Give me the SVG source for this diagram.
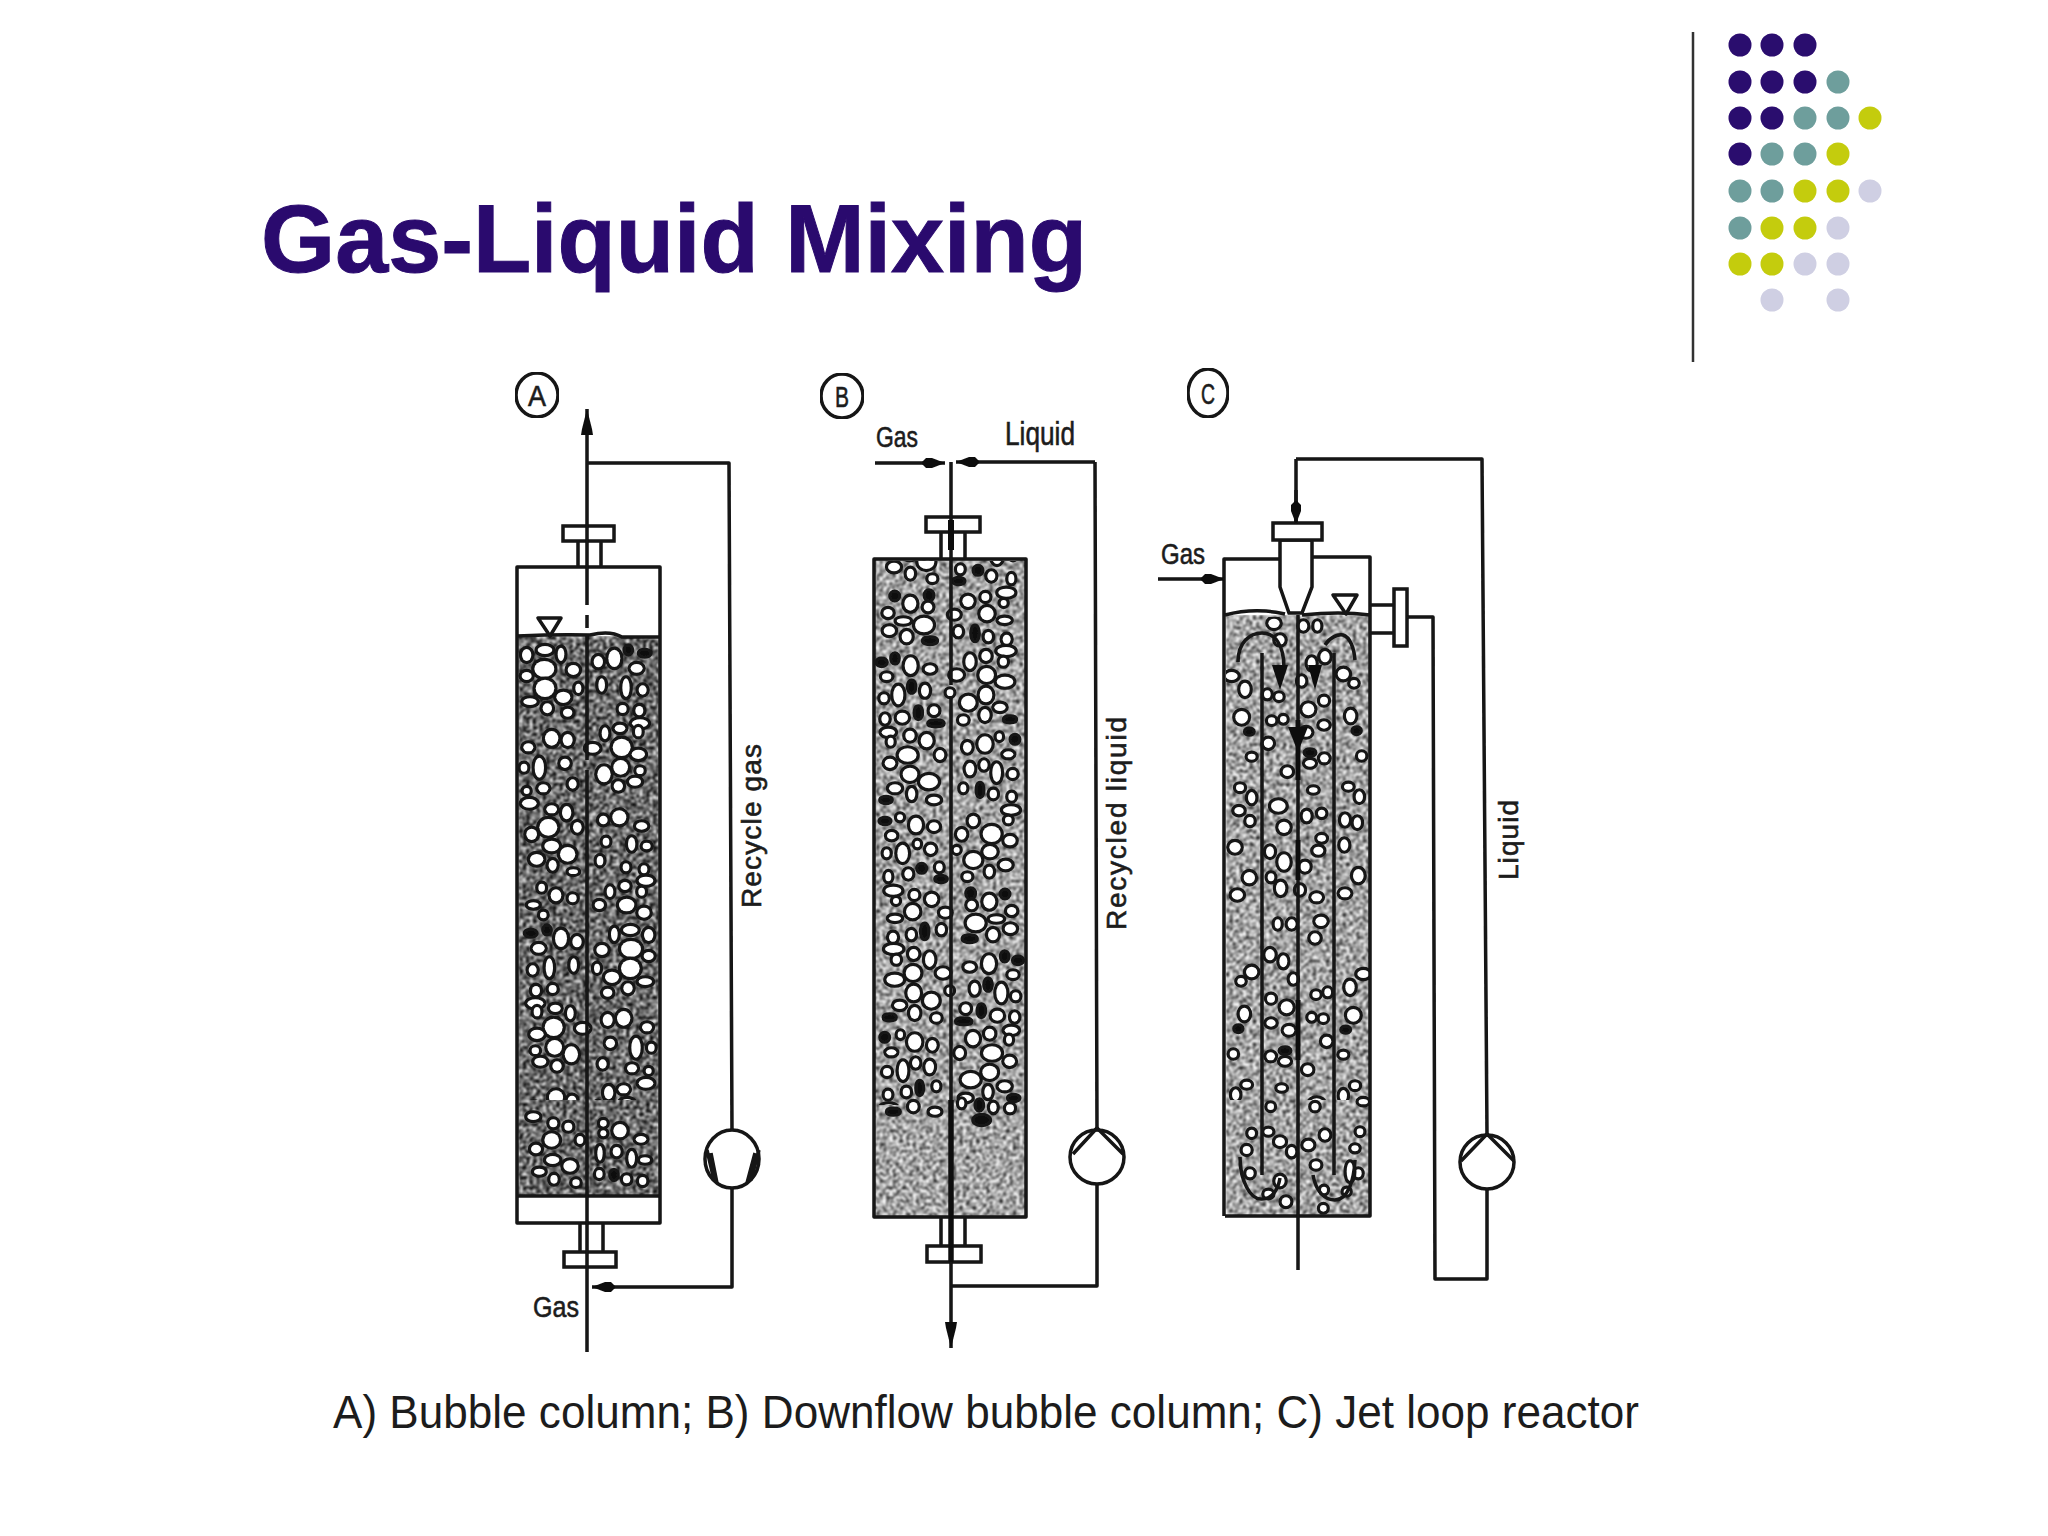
<svg xmlns="http://www.w3.org/2000/svg" xmlns:xlink="http://www.w3.org/1999/xlink" width="2048" height="1536" viewBox="0 0 2048 1536">
<style>
.l{fill:none;stroke:#141414;stroke-width:3.5;stroke-linejoin:round}
.w{fill:#fff;stroke:#141414;stroke-width:3.5}
.b ellipse{fill:#fff;stroke:#141414;stroke-width:19;paint-order:stroke}
.b .d{fill:#111}
.t{font-family:"Liberation Sans",Arial,sans-serif;fill:#1c1c1c}
.n{stroke:#1c1c1c;stroke-width:.6}
.p{fill:#2A0A6E}.g{fill:#6E9E9C}.y{fill:#C4CC10}.v{fill:#CFCFE3}
</style>
<defs>
<filter id="soft" x="-2%" y="-2%" width="104%" height="104%"><feGaussianBlur stdDeviation="0.7"/></filter>
<filter id="grainD" x="0" y="0" width="100%" height="100%" color-interpolation-filters="sRGB"><feTurbulence type="fractalNoise" baseFrequency="0.3" numOctaves="2" seed="4"/><feColorMatrix values="2.6 0 0 0 -0.88 2.6 0 0 0 -0.88 2.6 0 0 0 -0.88 0 0 0 0 1"/><feGaussianBlur stdDeviation="0.9"/></filter>
<filter id="grainL" x="0" y="0" width="100%" height="100%" color-interpolation-filters="sRGB"><feTurbulence type="fractalNoise" baseFrequency="0.3" numOctaves="2" seed="9"/><feColorMatrix values="2.2 0 0 0 -0.45 2.2 0 0 0 -0.45 2.2 0 0 0 -0.45 0 0 0 0 1"/><feGaussianBlur stdDeviation="1"/></filter>
<marker id="head" markerUnits="userSpaceOnUse" markerWidth="28" markerHeight="14" refX="26" refY="7" orient="auto"><path d="M0 1L6 2L26 7L6 12L0 13Z" fill="#111"/></marker>
<marker id="small" markerUnits="userSpaceOnUse" markerWidth="26" markerHeight="14" refX="24" refY="7" orient="auto"><path d="M0 7L5 2L11 2L24 7L11 12L5 12Z" fill="#111"/></marker>
<clipPath id="cA"><rect x="518" y="638" width="140" height="557"/></clipPath>
<clipPath id="cA2"><rect x="518" y="900" width="140" height="200"/></clipPath>
<clipPath id="cB"><rect x="875" y="561" width="150" height="544"/></clipPath>
<clipPath id="cC"><rect x="1226" y="617" width="143" height="483"/></clipPath>
<g id="tileA" class="b">
<ellipse cx="135" cy="90" rx="22" ry="12"/><ellipse cx="80" cy="105" rx="14" ry="18"/><ellipse cx="183" cy="103" rx="10" ry="20"/><ellipse cx="133" cy="147" rx="30" ry="24"/><ellipse cx="220" cy="150" rx="17" ry="15"/><ellipse cx="80" cy="168" rx="15" ry="12"/><ellipse cx="135" cy="205" rx="28" ry="26"/><ellipse cx="190" cy="232" rx="21" ry="17"/><ellipse cx="235" cy="205" rx="9" ry="14"/><ellipse cx="90" cy="245" rx="20" ry="10"/><ellipse cx="142" cy="265" rx="14" ry="15"/><ellipse cx="203" cy="278" rx="14" ry="12"/><ellipse cx="295" cy="125" rx="14" ry="17"/><ellipse cx="343" cy="115" rx="18" ry="26"/><ellipse cx="410" cy="145" rx="18" ry="13"/><ellipse cx="305" cy="195" rx="10" ry="20"/><ellipse cx="378" cy="203" rx="11" ry="28"/><ellipse cx="428" cy="210" rx="12" ry="14"/><ellipse cx="368" cy="267" rx="12" ry="12"/><ellipse cx="418" cy="272" rx="12" ry="14"/><ellipse class="d" cx="434" cy="100" rx="14" ry="7"/><ellipse class="d" cx="385" cy="90" rx="8" ry="10"/><ellipse cx="420" cy="310" rx="24" ry="12"/><ellipse cx="360" cy="325" rx="16" ry="11"/><ellipse cx="315" cy="340" rx="10" ry="18"/><ellipse cx="415" cy="335" rx="10" ry="14"/><ellipse cx="155" cy="355" rx="20" ry="22"/><ellipse cx="203" cy="360" rx="15" ry="18"/><ellipse cx="85" cy="382" rx="15" ry="12"/><ellipse cx="278" cy="385" rx="20" ry="13"/><ellipse cx="365" cy="382" rx="27" ry="26"/><ellipse cx="415" cy="403" rx="20" ry="14"/><ellipse cx="118" cy="443" rx="14" ry="30"/><ellipse cx="72" cy="443" rx="10" ry="12"/><ellipse cx="195" cy="430" rx="14" ry="14"/><ellipse cx="362" cy="442" rx="22" ry="22"/><ellipse cx="312" cy="463" rx="20" ry="24"/><ellipse cx="420" cy="452" rx="11" ry="10"/><ellipse cx="405" cy="485" rx="18" ry="12"/><ellipse cx="355" cy="498" rx="14" ry="14"/><ellipse cx="130" cy="505" rx="15" ry="12"/><ellipse cx="218" cy="492" rx="12" ry="14"/><ellipse cx="80" cy="513" rx="9" ry="9"/><ellipse cx="88" cy="550" rx="22" ry="13"/><ellipse cx="155" cy="568" rx="16" ry="12"/><ellipse cx="200" cy="578" rx="14" ry="20"/><ellipse cx="310" cy="600" rx="13" ry="13"/><ellipse cx="358" cy="592" rx="21" ry="21"/><ellipse cx="425" cy="618" rx="17" ry="11"/><ellipse cx="145" cy="622" rx="27" ry="25"/><ellipse cx="232" cy="622" rx="13" ry="16"/><ellipse cx="95" cy="643" rx="16" ry="17"/><ellipse cx="155" cy="678" rx="22" ry="16"/><ellipse cx="395" cy="672" rx="11" ry="20"/><ellipse cx="440" cy="678" rx="12" ry="10"/><ellipse cx="318" cy="665" rx="10" ry="12"/><ellipse cx="203" cy="703" rx="23" ry="22"/><ellipse cx="110" cy="718" rx="20" ry="16"/><ellipse cx="158" cy="736" rx="12" ry="16"/><ellipse cx="300" cy="722" rx="10" ry="14"/><ellipse cx="378" cy="742" rx="10" ry="12"/><ellipse cx="432" cy="748" rx="10" ry="12"/><ellipse cx="220" cy="755" rx="14" ry="7"/><ellipse cx="125" cy="803" rx="10" ry="12"/><ellipse cx="168" cy="826" rx="16" ry="18"/><ellipse cx="218" cy="835" rx="12" ry="12"/><ellipse cx="330" cy="815" rx="10" ry="16"/><ellipse cx="375" cy="798" rx="14" ry="12"/><ellipse cx="438" cy="782" rx="22" ry="12"/><ellipse cx="425" cy="815" rx="10" ry="12"/><ellipse cx="298" cy="855" rx="14" ry="12"/><ellipse cx="100" cy="855" rx="16" ry="8"/><ellipse cx="380" cy="855" rx="23" ry="19"/><ellipse cx="432" cy="878" rx="17" ry="15"/><ellipse cx="130" cy="885" rx="10" ry="10"/>
</g>
<g id="tileB" class="b">
<ellipse cx="88" cy="32" rx="17" ry="13"/><ellipse cx="130" cy="3" rx="20" ry="8"/><ellipse cx="192" cy="15" rx="27" ry="22"/><ellipse cx="140" cy="50" rx="15" ry="17"/><ellipse class="d" cx="210" cy="62" rx="18" ry="7"/><ellipse cx="295" cy="35" rx="11" ry="14"/><ellipse class="d" cx="345" cy="40" rx="8" ry="20"/><ellipse cx="385" cy="50" rx="11" ry="14"/><ellipse cx="440" cy="58" rx="12" ry="14"/><ellipse cx="438" cy="93" rx="26" ry="12"/><ellipse cx="378" cy="108" rx="14" ry="15"/><ellipse cx="330" cy="125" rx="14" ry="22"/><ellipse cx="430" cy="125" rx="11" ry="12"/><ellipse cx="152" cy="137" rx="18" ry="25"/><ellipse cx="210" cy="147" rx="16" ry="11"/><ellipse class="d" cx="105" cy="115" rx="8" ry="12"/><ellipse class="d" cx="65" cy="127" rx="12" ry="8"/><ellipse cx="290" cy="165" rx="19" ry="14"/><ellipse cx="380" cy="165" rx="22" ry="21"/><ellipse cx="435" cy="185" rx="25" ry="15"/><ellipse cx="80" cy="170" rx="14" ry="10"/><ellipse cx="115" cy="225" rx="15" ry="28"/><ellipse cx="195" cy="212" rx="12" ry="18"/><ellipse class="d" cx="155" cy="200" rx="8" ry="15"/><ellipse cx="72" cy="235" rx="11" ry="12"/><ellipse cx="270" cy="218" rx="10" ry="10"/><ellipse cx="325" cy="248" rx="22" ry="21"/><ellipse cx="378" cy="225" rx="19" ry="22"/><ellipse cx="420" cy="262" rx="17" ry="11"/><ellipse cx="375" cy="285" rx="14" ry="18"/><ellipse cx="222" cy="272" rx="13" ry="13"/><ellipse class="d" cx="175" cy="278" rx="8" ry="16"/><ellipse cx="75" cy="297" rx="11" ry="14"/><ellipse cx="127" cy="293" rx="17" ry="15"/><ellipse cx="310" cy="300" rx="13" ry="11"/><ellipse class="d" cx="450" cy="298" rx="15" ry="6"/><ellipse class="d" cx="228" cy="310" rx="20" ry="6"/><ellipse cx="85" cy="337" rx="20" ry="11"/><ellipse cx="150" cy="347" rx="14" ry="15"/><ellipse cx="200" cy="362" rx="18" ry="20"/><ellipse cx="92" cy="365" rx="9" ry="12"/><ellipse cx="375" cy="372" rx="20" ry="23"/><ellipse cx="322" cy="382" rx="13" ry="16"/><ellipse cx="418" cy="350" rx="8" ry="10"/><ellipse class="d" cx="465" cy="358" rx="10" ry="10"/><ellipse cx="143" cy="405" rx="27" ry="20"/><ellipse cx="240" cy="405" rx="13" ry="15"/><ellipse cx="90" cy="430" rx="16" ry="14"/><ellipse cx="445" cy="403" rx="15" ry="9"/><ellipse cx="330" cy="447" rx="13" ry="19"/><ellipse cx="372" cy="435" rx="11" ry="14"/><ellipse cx="410" cy="458" rx="13" ry="28"/><ellipse cx="458" cy="462" rx="12" ry="12"/><ellipse cx="150" cy="463" rx="22" ry="20"/><ellipse cx="207" cy="485" rx="27" ry="20"/><ellipse cx="105" cy="505" rx="18" ry="12"/><ellipse cx="155" cy="522" rx="11" ry="18"/><ellipse cx="310" cy="505" rx="9" ry="12"/><ellipse class="d" cx="360" cy="510" rx="7" ry="18"/><ellipse cx="400" cy="522" rx="11" ry="13"/><ellipse cx="455" cy="530" rx="10" ry="12"/><ellipse cx="222" cy="540" rx="18" ry="10"/><ellipse class="d" cx="78" cy="540" rx="14" ry="6"/><ellipse cx="453" cy="570" rx="24" ry="11"/><ellipse cx="340" cy="603" rx="14" ry="16"/><ellipse cx="168" cy="615" rx="18" ry="22"/><ellipse cx="222" cy="620" rx="15" ry="13"/><ellipse cx="120" cy="592" rx="9" ry="9"/><ellipse class="d" cx="75" cy="603" rx="13" ry="6"/><ellipse cx="445" cy="600" rx="10" ry="10"/><ellipse cx="305" cy="643" rx="14" ry="16"/><ellipse cx="395" cy="642" rx="27" ry="24"/><ellipse cx="450" cy="662" rx="17" ry="14"/><ellipse cx="95" cy="647" rx="14" ry="11"/><ellipse cx="128" cy="700" rx="16" ry="26"/><ellipse cx="212" cy="688" rx="14" ry="14"/><ellipse cx="172" cy="672" rx="8" ry="10"/><ellipse cx="390" cy="695" rx="20" ry="17"/><ellipse cx="340" cy="720" rx="24" ry="21"/><ellipse cx="80" cy="700" rx="9" ry="12"/><ellipse cx="290" cy="690" rx="9" ry="9"/><ellipse cx="437" cy="735" rx="18" ry="13"/><ellipse cx="388" cy="755" rx="11" ry="15"/><ellipse cx="145" cy="762" rx="12" ry="14"/><ellipse class="d" cx="185" cy="745" rx="10" ry="10"/><ellipse cx="238" cy="742" rx="10" ry="12"/><ellipse cx="85" cy="770" rx="9" ry="14"/><ellipse cx="322" cy="770" rx="12" ry="10"/><ellipse cx="100" cy="812" rx="24" ry="12"/><ellipse class="d" cx="243" cy="777" rx="14" ry="6"/><ellipse cx="163" cy="825" rx="12" ry="12"/><ellipse cx="215" cy="838" rx="17" ry="17"/><ellipse cx="108" cy="843" rx="9" ry="9"/><ellipse class="d" cx="332" cy="820" rx="10" ry="12"/><ellipse cx="388" cy="845" rx="18" ry="21"/><ellipse class="d" cx="435" cy="822" rx="10" ry="10"/><ellipse cx="335" cy="855" rx="13" ry="13"/><ellipse cx="158" cy="875" rx="20" ry="20"/><ellipse cx="256" cy="878" rx="16" ry="12"/><ellipse cx="455" cy="873" rx="14" ry="12"/><ellipse cx="105" cy="895" rx="18" ry="8"/>
</g>
<g id="tileC" class="b">
<ellipse cx="192" cy="70" rx="17" ry="14"/><ellipse cx="280" cy="78" rx="12" ry="14"/><ellipse cx="322" cy="78" rx="9" ry="14"/><ellipse cx="210" cy="120" rx="14" ry="14"/><ellipse cx="345" cy="170" rx="14" ry="17"/><ellipse cx="305" cy="190" rx="12" ry="18"/><ellipse cx="400" cy="222" rx="17" ry="16"/><ellipse cx="65" cy="228" rx="18" ry="12"/><ellipse cx="432" cy="250" rx="11" ry="10"/><ellipse cx="105" cy="268" rx="14" ry="20"/><ellipse cx="275" cy="243" rx="11" ry="14"/><ellipse cx="172" cy="283" rx="10" ry="12"/><ellipse cx="207" cy="290" rx="11" ry="10"/><ellipse cx="342" cy="302" rx="12" ry="12"/><ellipse cx="295" cy="328" rx="18" ry="18"/><ellipse cx="95" cy="352" rx="19" ry="19"/><ellipse cx="422" cy="348" rx="14" ry="19"/><ellipse cx="185" cy="362" rx="11" ry="10"/><ellipse cx="220" cy="358" rx="10" ry="10"/><ellipse cx="342" cy="375" rx="14" ry="11"/><ellipse cx="288" cy="397" rx="16" ry="13"/><ellipse cx="175" cy="430" rx="14" ry="14"/><ellipse class="d" cx="440" cy="392" rx="9" ry="7"/><ellipse class="d" cx="118" cy="395" rx="10" ry="6"/><ellipse cx="125" cy="470" rx="12" ry="9"/><ellipse cx="455" cy="468" rx="11" ry="11"/><ellipse class="d" cx="300" cy="458" rx="13" ry="7"/><ellipse cx="300" cy="490" rx="15" ry="10"/><ellipse cx="343" cy="475" rx="13" ry="12"/><ellipse cx="232" cy="515" rx="14" ry="13"/><ellipse cx="90" cy="563" rx="12" ry="10"/><ellipse cx="125" cy="593" rx="11" ry="17"/><ellipse cx="415" cy="560" rx="13" ry="9"/><ellipse cx="448" cy="590" rx="11" ry="16"/><ellipse cx="310" cy="570" rx="13" ry="8"/><ellipse cx="87" cy="632" rx="14" ry="11"/><ellipse cx="205" cy="618" rx="22" ry="17"/><ellipse cx="290" cy="648" rx="12" ry="16"/><ellipse cx="335" cy="640" rx="11" ry="11"/><ellipse cx="120" cy="663" rx="11" ry="12"/><ellipse cx="405" cy="660" rx="12" ry="17"/><ellipse cx="442" cy="668" rx="11" ry="16"/><ellipse cx="222" cy="682" rx="17" ry="17"/><ellipse cx="335" cy="715" rx="13" ry="10"/><ellipse cx="75" cy="742" rx="17" ry="16"/><ellipse cx="403" cy="735" rx="12" ry="17"/><ellipse cx="180" cy="755" rx="12" ry="16"/><ellipse cx="325" cy="752" rx="15" ry="12"/><ellipse cx="222" cy="786" rx="17" ry="23"/><ellipse cx="285" cy="800" rx="14" ry="15"/><ellipse cx="118" cy="833" rx="17" ry="17"/><ellipse cx="445" cy="827" rx="16" ry="20"/><ellipse cx="183" cy="832" rx="10" ry="12"/><ellipse cx="212" cy="865" rx="14" ry="20"/><ellipse cx="270" cy="870" rx="12" ry="14"/><ellipse cx="82" cy="885" rx="17" ry="14"/><ellipse cx="320" cy="892" rx="16" ry="12"/><ellipse cx="405" cy="880" rx="16" ry="12"/>
</g>
</defs>
<rect width="2048" height="1536" fill="#fff"/>

<g id="decoration" filter="url(#soft)">
<line x1="1693" y1="32" x2="1693" y2="362" stroke="#333" stroke-width="2.5"/>
<circle class="p" cx="1740" cy="45" r="11.5"/><circle class="p" cx="1772" cy="45" r="11.5"/><circle class="p" cx="1805" cy="45" r="11.5"/>
<circle class="p" cx="1740" cy="82" r="11.5"/><circle class="p" cx="1772" cy="82" r="11.5"/><circle class="p" cx="1805" cy="82" r="11.5"/><circle class="g" cx="1838" cy="82" r="11.5"/>
<circle class="p" cx="1740" cy="118" r="11.5"/><circle class="p" cx="1772" cy="118" r="11.5"/><circle class="g" cx="1805" cy="118" r="11.5"/><circle class="g" cx="1838" cy="118" r="11.5"/><circle class="y" cx="1870" cy="118" r="11.5"/>
<circle class="p" cx="1740" cy="154" r="11.5"/><circle class="g" cx="1772" cy="154" r="11.5"/><circle class="g" cx="1805" cy="154" r="11.5"/><circle class="y" cx="1838" cy="154" r="11.5"/>
<circle class="g" cx="1740" cy="191" r="11.5"/><circle class="g" cx="1772" cy="191" r="11.5"/><circle class="y" cx="1805" cy="191" r="11.5"/><circle class="y" cx="1838" cy="191" r="11.5"/><circle class="v" cx="1870" cy="191" r="11.5"/>
<circle class="g" cx="1740" cy="228" r="11.5"/><circle class="y" cx="1772" cy="228" r="11.5"/><circle class="y" cx="1805" cy="228" r="11.5"/><circle class="v" cx="1838" cy="228" r="11.5"/>
<circle class="y" cx="1740" cy="264" r="11.5"/><circle class="y" cx="1772" cy="264" r="11.5"/><circle class="v" cx="1805" cy="264" r="11.5"/><circle class="v" cx="1838" cy="264" r="11.5"/>
<circle class="v" cx="1772" cy="300" r="11.5"/><circle class="v" cx="1838" cy="300" r="11.5"/>
</g>

<text class="t" x="261" y="272" font-size="97" font-weight="700" style="fill:#2A0A6E;stroke:#2A0A6E;stroke-width:1" textLength="826" lengthAdjust="spacingAndGlyphs">Gas-Liquid Mixing</text>

<g id="column-a" filter="url(#soft)">
<rect x="517" y="567" width="143" height="656" fill="#fff"/>
<rect x="518" y="636" width="141" height="560" fill="#777" filter="url(#grainD)"/>
<g clip-path="url(#cA)">
<use xlink:href="#tileA" href="#tileA" transform="matrix(.3333 0 0 .3333 500 620)"/>
</g>
<g clip-path="url(#cA2)">
<use xlink:href="#tileA" href="#tileA" transform="matrix(-.3333 0 0 .3333 675.33 900)"/>
</g>
<g class="b" transform="matrix(.3333 0 0 .3333 480 1100)">
<ellipse cx="160" cy="50" rx="18" ry="10"/><ellipse cx="220" cy="70" rx="12" ry="12"/><ellipse cx="265" cy="80" rx="12" ry="12"/><ellipse cx="215" cy="120" rx="22" ry="20"/><ellipse cx="300" cy="120" rx="10" ry="12"/><ellipse cx="168" cy="147" rx="15" ry="13"/><ellipse cx="218" cy="180" rx="20" ry="12"/><ellipse cx="270" cy="198" rx="20" ry="17"/><ellipse cx="178" cy="215" rx="16" ry="9"/><ellipse cx="222" cy="238" rx="11" ry="13"/><ellipse cx="288" cy="248" rx="11" ry="10"/><ellipse cx="370" cy="70" rx="10" ry="10"/><ellipse cx="420" cy="92" rx="20" ry="20"/><ellipse cx="370" cy="100" rx="9" ry="9"/><ellipse cx="483" cy="118" rx="16" ry="10"/><ellipse cx="360" cy="160" rx="8" ry="22"/><ellipse cx="410" cy="155" rx="12" ry="14"/><ellipse cx="455" cy="175" rx="10" ry="22"/><ellipse cx="495" cy="180" rx="15" ry="8"/><ellipse cx="358" cy="222" rx="10" ry="12"/><ellipse class="d" cx="402" cy="225" rx="8" ry="12"/><ellipse cx="440" cy="238" rx="11" ry="12"/><ellipse cx="488" cy="243" rx="11" ry="12"/>
</g>
<path class="l" d="M517 636Q560 634 590 635Q610 630 622 637L660 637" stroke-width="4"/>
<path class="l" d="M518 1196H659" stroke-width="5"/>
<rect class="l" x="517" y="567" width="143" height="656" stroke-width="4"/>
<path class="l" d="M538 618H561L550 636Z"/>
<path class="l" d="M578 541V567M601 541V567M580 1223V1252M603 1223V1252"/>
<rect class="w" x="563" y="526" width="51" height="15"/>
<rect class="w" x="564" y="1252" width="52" height="15"/>
</g>

<g id="column-b" filter="url(#soft)">
<rect x="874" y="559" width="152" height="658" fill="#a0a0a0" filter="url(#grainL)"/>
<g clip-path="url(#cB)">
<use xlink:href="#tileB" href="#tileB" transform="matrix(.3333 0 0 .3333 860 620)"/>
<use xlink:href="#tileB" href="#tileB" transform="matrix(-.3333 0 0 .3333 1039.67 322)"/>
<use xlink:href="#tileB" href="#tileB" transform="matrix(-.3333 0 0 .3333 1039.67 918)"/>
</g>
<g class="b" transform="matrix(.3333 0 0 .3333 860 1100)">
<ellipse cx="160" cy="20" rx="13" ry="14"/><ellipse cx="225" cy="35" rx="16" ry="9"/><ellipse class="d" cx="100" cy="35" rx="16" ry="6"/><ellipse cx="305" cy="10" rx="8" ry="12"/><ellipse class="d" cx="358" cy="15" rx="8" ry="14"/><ellipse cx="400" cy="22" rx="10" ry="14"/><ellipse cx="450" cy="25" rx="12" ry="12"/><ellipse class="d" cx="365" cy="60" rx="22" ry="12"/>
</g>
<rect class="l" x="874" y="559" width="152" height="658" stroke-width="4"/>
<path class="l" d="M941 532V559M965 532V559M941 1218V1246M965 1218V1246"/>
<rect class="w" x="926" y="517" width="54" height="15"/>
<rect class="w" x="927" y="1246" width="54" height="16"/>
</g>

<g id="column-c" filter="url(#soft)">
<rect x="1225" y="557" width="146" height="659" fill="#fff"/>
<rect x="1226" y="615" width="145" height="601" fill="#a5a5a5" filter="url(#grainL)"/>
<g clip-path="url(#cC)">
<use xlink:href="#tileC" href="#tileC" transform="matrix(.3333 0 0 .3333 1210 600)"/>
<use xlink:href="#tileC" href="#tileC" transform="matrix(-.3333 0 0 .3333 1385 898)"/>
</g>
<g class="b" transform="matrix(.3333 0 0 .3333 1200 1100)">
<ellipse cx="212" cy="20" rx="10" ry="10"/><ellipse cx="345" cy="20" rx="11" ry="11"/><ellipse cx="490" cy="5" rx="14" ry="8"/><ellipse cx="155" cy="100" rx="10" ry="11"/><ellipse cx="205" cy="95" rx="12" ry="9"/><ellipse cx="240" cy="125" rx="15" ry="13"/><ellipse cx="275" cy="155" rx="11" ry="14"/><ellipse cx="325" cy="135" rx="15" ry="13"/><ellipse cx="375" cy="105" rx="13" ry="14"/><ellipse cx="480" cy="95" rx="10" ry="10"/><ellipse cx="140" cy="150" rx="12" ry="12"/><ellipse cx="348" cy="195" rx="13" ry="11"/><ellipse cx="465" cy="145" rx="11" ry="9"/><ellipse cx="150" cy="220" rx="11" ry="12"/><ellipse cx="240" cy="243" rx="14" ry="16"/><ellipse cx="475" cy="220" rx="10" ry="12"/><ellipse cx="205" cy="282" rx="12" ry="10"/><ellipse cx="258" cy="305" rx="13" ry="13"/><ellipse cx="370" cy="325" rx="10" ry="10"/><ellipse cx="372" cy="270" rx="9" ry="10"/><ellipse cx="440" cy="275" rx="9" ry="9"/><ellipse cx="450" cy="215" rx="10" ry="28"/>
</g>
<path class="l" d="M1262 653V1175M1334 653V1175" stroke-width="4.5"/>
<path class="l" d="M1238 662C1238 642 1250 633 1262 633C1275 633 1284 645 1284 668M1325 645C1330 637 1338 634 1343 635C1350 637 1354 648 1355 660M1240 1157C1240 1180 1250 1200 1262 1199C1272 1199 1278 1190 1280 1178M1313 1175C1316 1192 1325 1200 1335 1200C1348 1200 1354 1180 1355 1160"/>
<path d="M1272 665H1288L1280 690ZM1308 665H1322L1315 690Z" fill="#111"/>
<path class="l" d="M1224 1216V559H1280M1312 557H1370V1216H1225" stroke-width="4"/>
<path class="l" d="M1225 615Q1255 607 1285 614M1302 615Q1340 611 1370 615" stroke-width="4"/>
<path class="l" d="M1333 595H1357L1346 614Z"/>
<path class="w" d="M1280 540V587L1289 613H1302L1312 587V540Z" stroke-width="3.5"/>
<rect class="w" x="1273" y="523" width="49" height="17"/>
<path class="l" d="M1370 605H1394M1370 633H1394"/>
<rect class="w" x="1394" y="589" width="13" height="57"/>
</g>

<g id="pump-a" filter="url(#soft)">
<ellipse class="w" cx="732" cy="1159" rx="27" ry="29"/>
<path class="l" d="M711 1153L717 1183M755 1153L747 1183M707 1150L714 1180M759 1150L751 1180" stroke-width="2"/>
</g>
<g id="pump-b" filter="url(#soft)">
<circle class="w" cx="1097" cy="1157" r="27"/>
<path class="l" d="M1097 1128L1073 1154M1097 1128L1123 1154"/>
</g>
<g id="pump-c" filter="url(#soft)">
<circle class="w" cx="1487" cy="1162" r="27"/>
<path class="l" d="M1487 1134L1461 1161M1487 1134L1514 1161"/>
</g>

<g id="connectors" filter="url(#soft)">
<path class="l" d="M587 463V605M587 615V628M587 636V760M587 770V1352" stroke-width="4"/>
<path class="l" d="M587 463V409" marker-end="url(#head)" stroke-width="3"/>
<path class="l" d="M587 463H729L732 1130M732 1188V1287H610"/>
<path class="l" d="M612 1287H592" marker-end="url(#small)"/>
<path class="l" d="M951 462V685M951 697V1320" stroke-width="4"/>
<path d="M951 1100V1262" stroke="#111" stroke-width="5.5" fill="none"/>
<path class="l" d="M951 1320V1348" marker-end="url(#head)"/>
<path class="l" d="M875 463H945" marker-end="url(#small)"/>
<path class="l" d="M1095 462H956" marker-end="url(#small)"/>
<path class="l" d="M1095 462L1097 1129M1097 1185V1286H952" stroke-width="4"/>
<path d="M951 520V550" stroke="#111" stroke-width="6"/>
<path class="l" d="M1298 615V1270"/>
<path d="M1298 720V780M1298 840V880M1298 1000V1060" stroke="#111" stroke-width="5" fill="none"/>
<path d="M1288 727H1308L1298 752Z" fill="#111"/>
<path class="l" d="M1296 459H1482L1487 1134M1487 1190V1279H1435L1433 617H1407" stroke-width="4"/>
<path class="l" d="M1296 459V523" stroke-width="3.5"/>
<path class="l" d="M1296 490V524" marker-end="url(#small)"/>
<path class="l" d="M1158 579H1224" marker-end="url(#small)"/>
</g>

<g id="labels">
<ellipse class="l" cx="537" cy="395" rx="21" ry="22" filter="url(#soft)"/>
<text class="t n" x="537" y="406" font-size="29" text-anchor="middle" textLength="18" lengthAdjust="spacingAndGlyphs">A</text>
<ellipse class="l" cx="842" cy="396" rx="21" ry="22" filter="url(#soft)"/>
<text class="t n" x="842" y="407" font-size="29" text-anchor="middle" textLength="14" lengthAdjust="spacingAndGlyphs">B</text>
<ellipse class="l" cx="1208" cy="393" rx="20" ry="24" filter="url(#soft)"/>
<text class="t n" x="1208" y="404" font-size="29" text-anchor="middle" textLength="14" lengthAdjust="spacingAndGlyphs">C</text>
<text class="t n" x="533" y="1317" font-size="30" textLength="46" lengthAdjust="spacingAndGlyphs">Gas</text>
<text class="t n" x="876" y="447" font-size="30" textLength="42" lengthAdjust="spacingAndGlyphs">Gas</text>
<text class="t n" x="1005" y="445" font-size="33" textLength="70" lengthAdjust="spacingAndGlyphs">Liquid</text>
<text class="t n" x="1161" y="564" font-size="30" textLength="44" lengthAdjust="spacingAndGlyphs">Gas</text>
<text class="t n" transform="translate(761 908) rotate(-90)" font-size="28" textLength="164" lengthAdjust="spacing">Recycle gas</text>
<text class="t n" transform="translate(1126 930) rotate(-90)" font-size="28" textLength="213" lengthAdjust="spacing">Recycled liquid</text>
<text class="t n" transform="translate(1518 880) rotate(-90)" font-size="28" textLength="80" lengthAdjust="spacing">Liquid</text>
<text class="t" x="333" y="1428" font-size="46" textLength="1306" lengthAdjust="spacingAndGlyphs">A) Bubble column; B) Downflow bubble column; C) Jet loop reactor</text>
</g>
</svg>
